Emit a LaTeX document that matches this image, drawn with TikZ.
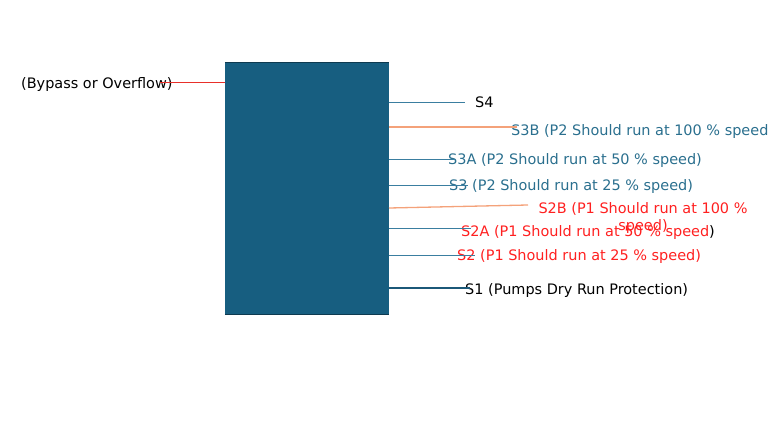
\documentclass[tikz,border=0pt]{standalone}
\usepackage{fontspec}
\setmainfont{DejaVu Sans}
\definecolor{boxfill}{HTML}{175E80}
\definecolor{boxedge}{HTML}{0E3A50}
\definecolor{linkblue}{HTML}{3A7EA0}
\definecolor{darkblue}{HTML}{1B5878}
\definecolor{orangeline}{HTML}{F4A27A}
\definecolor{redline}{HTML}{E8302A}
\definecolor{tealtext}{HTML}{2A6F8E}
\definecolor{redtext}{HTML}{FF2020}
\begin{document}
\begin{tikzpicture}[x=1pt,y=-1pt,
  lbl/.style={anchor=west,inner sep=0pt,font=\fontsize{14.45}{17}\selectfont},
  bl/.style={draw=linkblue,line width=0.9pt},
  ol/.style={draw=orangeline,line width=1.3pt}]
\useasboundingbox (0,0) rectangle (768,433);
% tank
\node[draw=none,fill=boxfill,minimum width=164pt,minimum height=251pt,inner sep=0pt] (tank) at (307,188.5) {};
\draw[boxedge,line width=1.4pt] (tank.north west) -- (tank.north east);
\draw[boxedge,line width=1.4pt] (tank.south west) -- (tank.south east);
% labels
\node[lbl,text=black] (byp) at (21,85) {(Bypass or Overflow)};
\node[lbl,text=black] (s4) at (475,102) {S4};
\node[lbl,text=tealtext] (s3b) at (511,132) {S3B (P2 Should run at 100 \% speed)};
\node[lbl,text=tealtext] (s3a) at (448,161) {S3A (P2 Should run at 50 \% speed)};
\node[lbl,text=tealtext] (s3) at (449,187) {S3 (P2 Should run at 25 \% speed)};
\node[lbl,anchor=center,align=center,text=redtext] (s2b) at (643,218.5) {S2B (P1 Should run at 100 \%\\speed)};
\node[lbl,text=black] (s2a) at (461,233) {\textcolor{redtext}{S2A (P1 Should run at 50 \% speed})};
\node[lbl,text=redtext] (s2) at (457,257) {S2 (P1 Should run at 25 \% speed)};
\node[lbl,text=black] (s1) at (465,291) {S1 (Pumps Dry Run Protection)};
% free ends
\coordinate (eByp) at (160,83);
\coordinate (e4) at (465,102);
\coordinate (e3b) at (517,127);
\coordinate (e3a) at (456,159);
\coordinate (e3) at (468,185);
\coordinate (e2b) at (528,205);
\coordinate (e2a) at (471,228);
\coordinate (e2) at (475,255);
\coordinate (e1) at (470,288);
% connectors
\draw[draw=redline,line width=1pt] (eByp) -- (tank.west |- eByp);
\draw[bl] (tank.east |- e4) -- (e4);
\draw[ol] (tank.east |- e3b) -- (e3b);
\draw[bl] (tank.east |- e3a) -- (e3a);
\draw[bl] (tank.east |- e3) -- (e3);
\draw[ol] (389,208) -- (e2b);
\draw[bl] (tank.east |- e2a) -- (e2a);
\draw[bl] (tank.east |- e2) -- (e2);
\draw[draw=darkblue,line width=1.6pt] (tank.east |- e1) -- (e1);
\end{tikzpicture}
\end{document}
